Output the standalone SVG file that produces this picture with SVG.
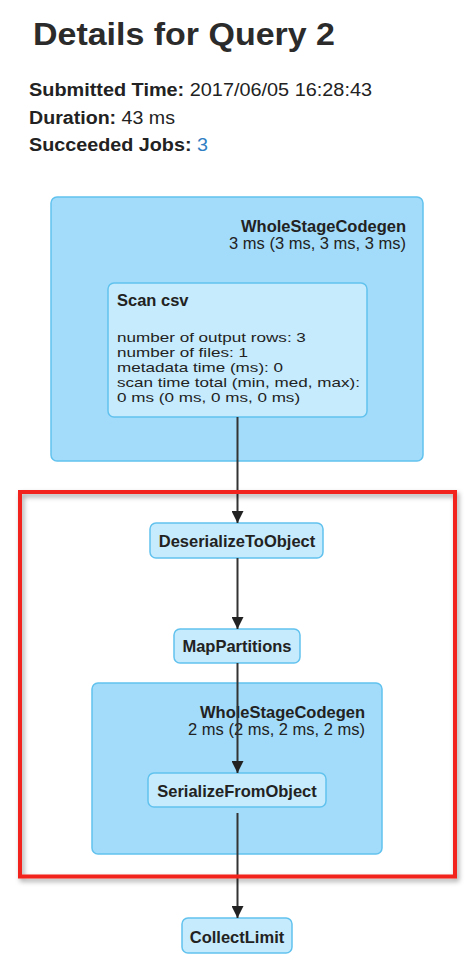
<svg xmlns="http://www.w3.org/2000/svg" width="474" height="978" viewBox="0 0 474 978">
<defs>
<style>
text{font-family:"Liberation Sans",Arial,Helvetica,sans-serif;fill:#222;}
.title{font-size:32px;font-weight:bold;fill:#2b2b2b;}
.hd{font-size:18px;}
.lbl{font-weight:bold;}
.sl{font-size:16.5px;font-weight:bold;}
.cluster{fill:#a2dcfa;stroke:#62c2ee;stroke-width:1.5;}
.node{fill:#c6ebfc;stroke:#62c2ee;stroke-width:1.5;}
.nt{font-size:16.5px;font-weight:bold;text-anchor:middle;}
.ct{font-size:16.5px;font-weight:bold;text-anchor:end;}
.cm{font-size:16.5px;text-anchor:end;}
.mt{font-size:13.4px;}
.edge{stroke:#333;stroke-width:2;fill:none;marker-end:url(#arrow);}
</style>
<marker id="arrow" markerUnits="userSpaceOnUse" markerWidth="14" markerHeight="12" refX="12" refY="6" orient="auto">
<path d="M0,0 L12,6 L0,12 Z" fill="#222"/>
</marker>
<filter id="shadow" x="-10%" y="-10%" width="120%" height="120%">
<feDropShadow dx="2" dy="3" stdDeviation="2.5" flood-color="#000" flood-opacity="0.35"/>
</filter>
</defs>
<rect width="474" height="978" fill="#fff"/>
<g id="header">
<text class="title" x="33" y="45" textLength="302" lengthAdjust="spacingAndGlyphs">Details for Query 2</text>
<text class="hd" x="29" y="96" textLength="343" lengthAdjust="spacingAndGlyphs"><tspan class="lbl">Submitted Time:</tspan> 2017/06/05 16:28:43</text>
<text class="hd" x="29" y="123.5" textLength="146" lengthAdjust="spacingAndGlyphs"><tspan class="lbl">Duration:</tspan> 43 ms</text>
<text class="hd" x="29" y="151" textLength="179" lengthAdjust="spacingAndGlyphs"><tspan class="lbl">Succeeded Jobs:</tspan> <tspan style="fill:#2f7fc4">3</tspan></text>
</g>
<g id="cluster-wsc1">
<rect class="cluster" x="51" y="197" width="372" height="264" rx="6"/>
<text class="ct" x="406" y="232">WholeStageCodegen</text>
<text class="cm" x="406" y="249">3 ms (3 ms, 3 ms, 3 ms)</text>
</g>
<g id="node-scancsv">
<rect class="node" x="108" y="283" width="259" height="134" rx="6"/>
<text class="sl" x="117" y="306">Scan csv</text>
<g transform="translate(117,0) scale(1.275,1)">
<text class="mt" x="0" y="341.7">number of output rows: 3</text>
<text class="mt" x="0" y="356.7">number of files: 1</text>
<text class="mt" x="0" y="371.7">metadata time (ms): 0</text>
<text class="mt" x="0" y="386.7">scan time total (min, med, max):</text>
<text class="mt" x="0" y="401.7">0 ms (0 ms, 0 ms, 0 ms)</text>
</g>
</g>
<g id="cluster-wsc2">
<rect class="cluster" x="92" y="683" width="290" height="171" rx="6"/>
<text class="ct" x="365" y="718">WholeStageCodegen</text>
<text class="cm" x="365" y="735">2 ms (2 ms, 2 ms, 2 ms)</text>
</g>
<g id="node-deserialize">
<rect class="node" x="150" y="523" width="173" height="35" rx="6"/>
<text class="nt" x="237" y="547">DeserializeToObject</text>
</g>
<g id="node-mappartitions">
<rect class="node" x="174" y="629" width="126" height="34" rx="6"/>
<text class="nt" x="237" y="652">MapPartitions</text>
</g>
<g id="node-serialize">
<rect class="node" x="148" y="773" width="178" height="34" rx="6"/>
<text class="nt" x="237" y="797">SerializeFromObject</text>
</g>
<g id="node-collectlimit">
<rect class="node" x="182" y="918" width="110" height="35" rx="6"/>
<text class="nt" x="237" y="943">CollectLimit</text>
</g>
<g id="edges">
<line class="edge" x1="237.5" y1="417" x2="237.5" y2="523"/>
<line class="edge" x1="237.5" y1="558" x2="237.5" y2="629"/>
<line class="edge" x1="237.5" y1="663" x2="237.5" y2="773"/>
<line class="edge" x1="237.5" y1="813" x2="237.5" y2="918"/>
</g>
<g id="highlight">
<rect x="20" y="492" width="435" height="384.5" fill="none" stroke="#f2221b" stroke-width="4" filter="url(#shadow)"/>
</g>
</svg>
